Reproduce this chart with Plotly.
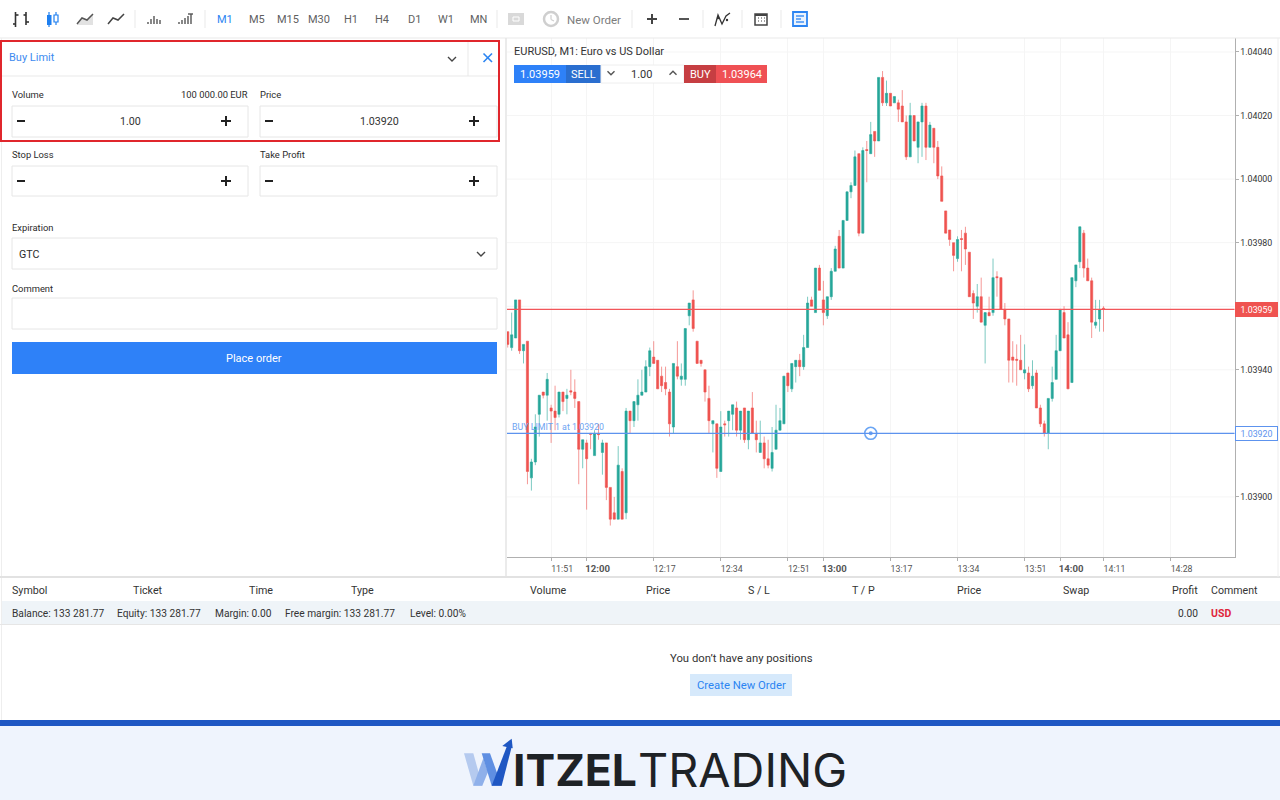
import pandas as pd
import plotly.graph_objects as go

W, H = 1280, 800
UI = "Roboto"

# price in points above 1.00000
open_pts = [3952,3947,3950,3962,3946,3949,3906,3911,3926,3933,
    3932,3928,3927,3926,3933,3931,3933.4,3933,3930,3915,
    3917,3920,3913,3920,3914,3917,3903,3895,3893,3908,
    3895,3927,3924,3929,3932,3933,3941,3944,3943,3938,
    3936,3933,3922,3941,3937,3937,3957,3962,3949,3943,
    3940,3931,3923,3923,3908,3923,3924,3926,3928,3921,
    3928,3918,3928,3920,3914,3917,3912,3909,3915,3921,
    3923,3939,3934,3941,3943,3941,3947,3962,3958,3972,
    3962,3957,3963,3971,3982,3972,3987,3996,3998,4008,
    3983,4009.3,4008,4015,4012,4032,4024,4027,4024,4024,
    4023,4018,4007,4020,4010,4018,4023,4010,4016,4010,
    4001,3990,3984,3980,3975,3981.3,3983,3977,3964,3960,
    3963,3954,3958,3958,3969.3,3969,3959,3956,3944,3943.3,
    3943,3939,3939,3935,3939,3928,3923,3920,3931,3937,
    3946,3958,3951,3936,3968,3974,3983,3972,3968,3954,
    3956,3959.4]
close_pts = [3948,3951,3962,3946,3948,3908,3911,3922,3932,3932,
    3937,3927,3925,3933,3930,3932,3933,3931,3915,3918,
    3912,3919.7,3920,3919.6,3917,3903,3893,3893,3910,3893,
    3927,3924,3930,3932,3933,3941,3946,3942,3934,3935,
    3934,3923,3942,3938,3938,3953,3961,3953,3942,3942,
    3933,3924,3924,3909,3922,3922.7,3927,3929,3921,3927,
    3918,3927,3920,3918,3917,3912,3910,3914,3921,3924,
    3938,3935,3942,3943,3941,3947,3961,3960,3972,3965,
    3958,3963,3971,3978,3972,3987,3996,3998,4007,3983,
    4009,4009,4014,4012,4032,4024,4027,4023,4026,4022,
    4018,4007,4020,4012,4018,4023,4010,4017,4010,4001,
    3993,3983,3981,3976,3981,3981,3978,3963,3961,3963,
    3955,3958,3957,3969,3969,3959,3956,3943,3943,3943,
    3940,3940,3934,3938,3928,3923,3920,3931,3936,3946,
    3959,3950,3934,3969,3973,3985,3972,3968,3955,3955,
    3959,3959]
high_pts = [3952,3958,3962,3962,3948,3949,3912,3926,3932,3933,
    3939,3929,3935,3933,3933,3934,3940,3937,3930,3918,
    3918,3920,3921,3923,3918,3917,3903,3900,3916,3909,
    3928,3927,3930,3937,3940,3943,3947,3949,3943,3941,
    3941,3934,3942,3949,3942,3953,3961,3965,3949,3943,
    3940,3935,3924,3923,3927,3924,3927,3929,3930,3927,
    3928,3927,3933,3924,3924,3919,3918,3922,3929,3928,
    3938,3939,3942,3943,3945,3951,3963,3963,3972,3973,
    3968,3963,3972,3979,3984,3987,3996,3999,4009,4008,
    4010,4012,4018,4015,4032,4034,4031,4027,4026,4025,
    4028,4020,4024,4020,4018,4024,4024,4018,4016,4012,
    4004,3990,3984,3980,3982,3984,3985,3977,3965,3967,
    3969,3958,3963,3975,3971,3969,3961,3956,3949,3948,
    3951,3948,3941,3943,3940,3929,3924,3931,3941,3951,
    3959,3960,3955,3969,3973,3985,3984,3975,3969,3962,
    3962,3960]
low_pts = [3947,3946,3950,3945,3942,3904,3902,3910,3919,3931,
    3924,3917,3921,3925,3927,3926,3932,3928,3904,3909,
    3896,3915,3913,3918,3907,3899,3891,3893,3893,3893,
    3893,3920,3922,3924,3932,3933,3938,3942,3934,3933,
    3932,3919,3920,3937,3935,3935,3954,3952,3942,3941,
    3930,3920,3914,3906,3908,3919,3919,3921,3919,3918,
    3917,3915,3920,3914,3914,3909,3909,3908,3915,3921,
    3923,3933,3933,3936,3938,3940,3947,3960,3958,3965,
    3954,3956,3962,3971,3972,3972,3987,3994,3998,3982,
    3983,3999,4008,4007,4012,4023,4023,4023,4024,4018,
    4018,4006,4007,4012,4005,4007,4006,4010,4005,4000,
    3993,3983,3979,3971,3974,3971,3973,3963,3956,3958,
    3955,3942,3957,3957,3963,3959,3954,3936,3936,3935,
    3940,3937,3933,3934,3928,3922,3919,3915,3930,3937,
    3946,3950,3934,3936,3966,3972,3969,3968,3950,3953,
    3952,3952]

bid_price = 1.03959
ask_price = 1.03964
limit_price = 1.03920
y_ticks = [1.03900, 1.03920, 1.03940, 1.03960, 1.03980, 1.04000, 1.04020, 1.04040]
y_tick_show = [1.03900, 1.03940, 1.03980, 1.04000, 1.04020, 1.04040]
x_tick_times = ["11:51", "12:00", "12:17", "12:34", "12:51", "13:00", "13:17", "13:34", "13:51", "14:00", "14:11", "14:28"]
timeframes = ["M1", "M5", "M15", "M30", "H1", "H4", "D1", "W1", "MN"]
timeframe_x = [225, 257, 288, 319, 351, 382, 414, 446, 478]
table_heads = ["Symbol", "Ticket", "Time", "Type", "Volume", "Price", "S / L", "T / P", "Price", "Swap"]
table_head_x = [12, 133, 249, 351, 530, 646, 748, 852, 957, 1063]
balance_items = ["Balance: 133 281.77", "Equity: 133 281.77", "Margin: 0.00", "Free margin: 133 281.77", "Level: 0.00%"]
balance_x = [12, 117, 215, 285, 410]

day = "2024-12-18 "
times = pd.date_range(day + "11:40", periods=len(open_pts), freq="min")
to_price = lambda pts: [round(1 + p / 1e5, 6) for p in pts]
shapes, notes = [], []


def px(x):
    return x / W


def py(y):
    return 1 - y / H


def rect(x0, y0, x1, y1, fill="rgba(0,0,0,0)", line=None, lw=1):
    shapes.append(dict(type="rect", xref="paper", yref="paper", x0=px(x0), x1=px(x1), y0=py(y0), y1=py(y1),
                       fillcolor=fill, line=dict(color=line or "rgba(0,0,0,0)", width=lw if line else 0)))


def seg(x0, y0, x1, y1, color="#e9e9e9", lw=1):
    shapes.append(dict(type="line", xref="paper", yref="paper", x0=px(x0), x1=px(x1), y0=py(y0), y1=py(y1),
                       line=dict(color=color, width=lw)))


def poly(pts, fill=None, line=None, lw=1.5):
    path = "M" + " L".join("%.5f,%.5f" % (px(a), py(b)) for a, b in pts) + (" Z" if fill else "")
    shapes.append(dict(type="path", xref="paper", yref="paper", path=path, fillcolor=fill or "rgba(0,0,0,0)",
                       line=dict(color=line or "rgba(0,0,0,0)", width=lw if line else 0)))


def circle(cx, cy, r, fill="rgba(0,0,0,0)", line=None, lw=1):
    shapes.append(dict(type="circle", xref="paper", yref="paper", x0=px(cx - r), x1=px(cx + r), y0=py(cy - r), y1=py(cy + r),
                       fillcolor=fill, line=dict(color=line or "rgba(0,0,0,0)", width=lw if line else 0)))


def label(x, y, text, size=9.4, color="#2b2b2b", anchor="left", family=UI):
    # annotations keep one pixel of padding round the text
    nudge = {"left": -1, "right": 1, "center": 0}[anchor]
    notes.append(dict(xref="paper", yref="paper", x=px(x + nudge), y=py(y), text=text, showarrow=False, xanchor=anchor,
                      yanchor="middle", borderpad=0, font=dict(family=family, size=size, color=color)))


def plus_minus(xm, xp, y):
    seg(xm - 4, y, xm + 4, y, "#222222", 2)
    seg(xp - 5, y, xp + 5, y, "#222222", 2)
    seg(xp, y - 5, xp, y + 5, "#222222", 2)


def chevron(x, y, color="#444444", up=False, s=4):
    d = -s if up else s
    poly([(x - s, y - d / 2), (x, y + d / 2), (x + s, y - d / 2)], line=color, lw=1.4)


# page frame
seg(0, 38, W, 38)
seg(1.5, 38, 1.5, 720, "#eeeeee")
seg(506, 38, 506, 577, "#e4e4e4", 1.5)
seg(0, 577, W, 577, "#e2e2e2", 2)
seg(1278, 38, 1278, 577, "#eeeeee")

# toolbar icons
for x, y0, y1, tl, tr in [(15.5, 12, 27, 24, 15), (26, 12, 25, 15, 22)]:
    seg(x, y0, x, y1, "#333333", 1.6)
    seg(x - 2.5, tl, x, tl, "#333333", 1.6)
    seg(x, tr, x + 3, tr, "#333333", 1.6)
seg(49, 12, 49, 27, "#1e7ff0", 1.2)
rect(47, 15, 51.5, 25, "#1e7ff0")
seg(56, 12, 56, 25, "#1e7ff0", 1.2)
rect(54, 15, 58, 22, "#ffffff", "#1e7ff0", 1.2)
poly([(77, 25), (82, 18.5), (87, 20), (93, 14), (93, 25)], fill="#e2e2e2")
poly([(77, 24), (82, 18), (87, 20), (93, 14)], line="#555555")
poly([(108, 24), (113, 18), (118, 20), (124, 14)], line="#444444")
seg(135, 10, 135, 28)
for x, y in zip([148, 151, 154, 157, 160], [22, 19, 16, 19, 20]):
    seg(x, y, x, 24, "#555555", 1.4)
for x, y in zip([179, 182, 185, 188, 191], [22, 20, 18, 16, 14]):
    seg(x, y, x, 24, "#555555", 1.4)
seg(188, 14, 193, 14, "#555555", 1.4)
seg(205, 10, 205, 28)
for name, x in zip(timeframes, timeframe_x):
    label(x, 19.5, name, 11, "#2b84f2" if name == "M1" else "#5f5f5f", "center")
seg(497, 10, 497, 28)
rect(508, 13, 524, 25, "#d9d9d9")
rect(513, 17, 519, 21, "rgba(0,0,0,0)", "#ffffff", 1)
circle(551, 19, 7, "#ffffff", "#cfcfcf", 2.5)
seg(551, 15, 551, 19.5, "#cfcfcf", 1.2)
seg(551, 19.5, 554, 21, "#cfcfcf", 1.2)
label(567, 19.5, "New Order", 11.5, "#7c7c7c")
seg(632, 10, 632, 28)
seg(647, 19, 657, 19, "#444444", 2)
seg(652, 14, 652, 24, "#444444", 2)
seg(679, 19, 689, 19, "#555555", 2)
seg(703, 10, 703, 28)
poly([(715, 26), (718, 15), (722, 24), (726, 16), (730, 13)], line="#333333", lw=1.3)
circle(718, 18, 1.2, "#333333")
circle(727, 20, 1.2, "#333333")
seg(742, 10, 742, 28)
rect(755, 14, 767, 25, "#ffffff", "#444444", 1.5)
seg(755, 15, 767, 15, "#444444", 2)
for x in [758, 761, 764]:
    seg(x, 18, x + 1, 18, "#444444", 1.2)
    seg(x, 21, x + 1, 21, "#444444", 1.2)
seg(781, 10, 781, 28)
rect(793, 12, 807, 26, "#eaf3fe", "#2b84f2", 1.8)
for y, x1 in [(16, 804), (19, 801), (22, 804)]:
    seg(796, y, x1, y, "#2b84f2", 1.3)

# order panel
label(9, 57, "Buy Limit", 11, "#3d8af0")
chevron(452, 59)
seg(468, 41, 468, 76)
seg(483.5, 53.5, 492, 62, "#2b84f2", 1.6)
seg(483.5, 62, 492, 53.5, "#2b84f2", 1.6)
seg(2, 76, 498, 76)
label(12, 94.5, "Volume")
label(248, 94.5, "100 000.00 EUR", anchor="right")
label(260, 94.5, "Price")
rect(12, 106, 248, 137, "#ffffff", "#e6e6e6")
rect(260, 106, 497, 137, "#ffffff", "#e6e6e6")
plus_minus(21, 226, 121)
plus_minus(269, 474, 121)
label(130, 121.5, "1.00", 10.7, "#333333", "center")
label(379, 121.5, "%.5f" % limit_price, 10.7, "#333333", "center")
label(12, 155, "Stop Loss")
label(260, 155, "Take Profit")
rect(12, 166, 248, 196, "#ffffff", "#e6e6e6")
rect(260, 166, 497, 196, "#ffffff", "#e6e6e6")
plus_minus(21, 226, 181)
plus_minus(269, 474, 181)
label(12, 228, "Expiration")
rect(12, 238, 497, 269, "#ffffff", "#e6e6e6")
label(19, 254, "GTC", 10.7)
chevron(481, 254)
label(12, 288, "Comment")
rect(12, 298, 497, 329, "#ffffff", "#e6e6e6")
rect(12, 342, 497, 374, "#2e81f8")
label(254, 358, "Place order", 11, "#ffffff", "center")
rect(1, 41, 499, 141, line="#e0262c", lw=2)

# chart header
label(514, 51.5, "EURUSD, M1: Euro vs US Dollar", 11, "#333333")
rect(514, 65, 566, 83, "#2e81f8")
rect(566, 65, 601, 83, "#2a6ecf")
label(540, 74, "%.5f" % bid_price, 11, "#ffffff", "center")
label(583, 74, "SELL", 11, "#ffffff", "center")
rect(601, 65, 684, 83, "#ffffff", "#eeeeee")
chevron(611, 73, "#555555", s=3.5)
label(641, 74, "1.00", 11, "#333333", "center")
chevron(673, 73, "#555555", up=True, s=3.5)
rect(684, 65, 716, 83, "#c63e42")
rect(716, 65, 767, 83, "#ef5054")
label(700, 74, "BUY", 11, "#ffffff", "center")
label(741.5, 74, "%.5f" % ask_price, 11, "#ffffff", "center")
label(512, 427, "BUY LIMIT 1 at %.5f" % limit_price, 8.8, "#6ea4f2")

# positions table
for name, x in zip(table_heads, table_head_x):
    label(x, 590, name, 10.7, "#333333")
label(1198, 590, "Profit", 10.7, "#333333", "right")
label(1211, 590, "Comment", 10.6, "#333333")
rect(2, 601, W, 624, "#eff4f8")
seg(0, 624.5, W, 624.5, "#e6e6e6")
for name, x in zip(balance_items, balance_x):
    label(x, 613, name, 10.2, "#333333")
label(1198, 613, "0.00", 10.2, "#333333", "right")
label(1211, 613, "<b>USD</b>", 10.5, "#e0263c")
label(741, 658, "You don\u2019t have any positions", 11.3, "#333333", "center")
rect(690, 674, 792, 696, "#d6e9fb")
label(741, 685.5, "Create New Order", 11.3, "#2b84f2", "center")

# footer with logo
rect(0, 726, W, 800, "#eff4fd")
rect(0, 720, W, 726, "#1f57c3")
poly([(464, 753.3), (473.3, 753.3), (482.3, 785.7), (473.3, 785.7)], fill="#b5caef")
poly([(473.3, 785.7), (483.3, 758.3), (488, 772), (482.3, 785.7)], fill="#8fb0ea")
poly([(481.7, 753.3), (490, 753.3), (501.7, 785.7), (491.7, 785.7)], fill="#5f8fe2")
poly([(491.7, 785.7), (501.7, 785.7), (511.7, 746.7), (506.7, 746.7)], fill="#1f57c3")
poly([(502.3, 746), (511.7, 738.7), (512.7, 748.3)], fill="#1f57c3")
label(513, 770, "<b>ITZEL</b>", 44.5, "#1e2226", family="Inter")
label(638, 770, "TRADING", 46.8, "#1e2226", family="Inter")

fig = go.Figure()
fig.add_trace(go.Candlestick(
    x=times, open=to_price(open_pts), high=to_price(high_pts), low=to_price(low_pts), close=to_price(close_pts),
    increasing=dict(line=dict(color="rgba(38,166,154,0.6)", width=1), fillcolor="#26a69a"),
    decreasing=dict(line=dict(color="rgba(239,83,80,0.6)", width=1), fillcolor="#ef5350"),
    whiskerwidth=0, hoverinfo="skip", showlegend=False))
fig.add_trace(go.Scatter(
    x=[times[92], times[92]], y=[limit_price, limit_price], mode="markers", hoverinfo="skip", showlegend=False,
    marker=dict(symbol="circle", size=[12, 4], color=["#ffffff", "#2b7ff0"], line=dict(color="#2b7ff0", width=[1.5, 0]))))

fig.add_hline(y=bid_price, line=dict(color="#f2565a", width=1.2))
fig.add_hline(y=limit_price, line=dict(color="#5d93ee", width=1.2))
fig.layout.shapes = list(fig.layout.shapes) + [go.layout.Shape(**s) for s in shapes]

for price, fill, fg, border in [(bid_price, "#ef5350", "#ffffff", "#ef5350"), (limit_price, "#ffffff", "#5d93ee", "#5d93ee")]:
    notes.append(dict(xref="paper", yref="y", x=px(1235), y=price, xanchor="left", yanchor="middle", showarrow=False,
                      text="%.5f" % price, width=41, height=13, bgcolor=fill, bordercolor=border, borderwidth=1, borderpad=0,
                      font=dict(family=UI, size=8.8, color=fg)))

tick_text = ["<b><span style='font-size:9.6px'>%s</span></b>" % t if t.endswith(":00") else t for t in x_tick_times]
fig.update_layout(
    width=W, height=H, margin=dict(l=0, r=0, t=0, b=0), paper_bgcolor="#ffffff", plot_bgcolor="#ffffff",
    font=dict(family=UI, size=10, color="#333333"), showlegend=False, boxgap=0.22,
    annotations=notes,
    xaxis=dict(domain=[507 / W, 1234.5 / W], anchor="y", rangeslider=dict(visible=False),
               range=[times[0] - pd.Timedelta(seconds=11), times[0] + pd.Timedelta(minutes=184.2)],
               tickvals=[day + t for t in x_tick_times], ticktext=tick_text, ticks="outside", ticklen=3, tickcolor="#b0b0b0",
               ticklabelshift=11, showgrid=True, gridcolor="#f5f5f5", showline=True, linecolor="#b0b0b0", linewidth=1,
               tickfont=dict(family=UI, size=8.8, color="#555555"), zeroline=False),
    yaxis=dict(domain=[1 - 557 / H, 1 - 38 / H], anchor="x", side="right", range=[1.038811, 1.040444],
               tickvals=y_tick_show, tickformat=".5f", ticks="outside", ticklen=3, tickcolor="#b0b0b0",
               showgrid=False, showline=True, linecolor="#b0b0b0", linewidth=1,
               tickfont=dict(family=UI, size=8.8, color="#333333"), zeroline=False),
)
# horizontal grid also under the two price lines
for price in y_ticks:
    fig.add_hline(y=price, layer="below", line=dict(color="#f5f5f5", width=1))

fig.write_html("out.html", config=dict(displayModeBar=False), post_script="document.body.style.margin='0';")
